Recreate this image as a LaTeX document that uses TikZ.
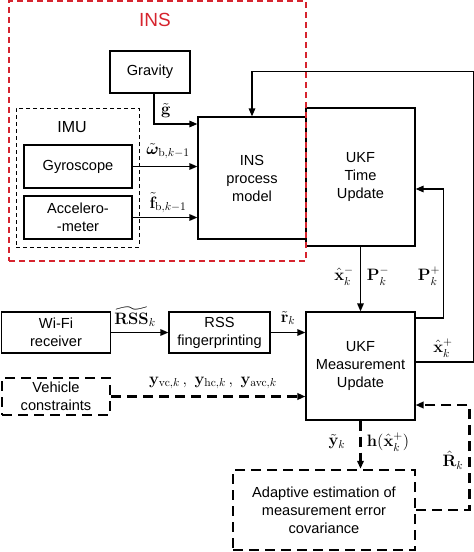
\RequirePackage{fix-cm}
\documentclass[tikz,border=0pt]{standalone}
\usepackage{amsmath, amssymb, bm}
\usepackage[no-math]{fontspec}
\setmainfont{Liberation Sans}
\usetikzlibrary{arrows.meta,positioning,calc}
\definecolor{insred}{RGB}{214,36,46}

\begin{document}
\begin{tikzpicture}[x=1pt, y=-1pt, every node/.style={align=center, font=\fontsize{14.6}{18}\selectfont},
  block/.style={draw, line width=1.2pt, inner sep=0pt},
  dblock/.style={draw, line width=2.5pt, dash pattern=on 10pt off 6pt, inner sep=0pt},
  arr/.style={line width=1.4pt, -{Triangle[length=8pt,width=6.5pt]}},
  darr/.style={arr, line width=2.5pt, dash pattern=on 10pt off 6pt},
  lbl/.style={inner sep=0pt, font=\fontsize{16.5}{18}\selectfont}]

\useasboundingbox (0,0) rectangle (474,552);

  % IMU (left)
  \node[draw, line width=1pt, dash pattern=on 4pt off 3pt, minimum width=123pt, minimum height=139pt] (imu) at (77.5,177.5) {};
  \node[font=\fontsize{16}{18}\selectfont] (imulabel) at (72,127) {IMU};
  \node[block, minimum width=108pt, minimum height=43pt] (gyro) at (78,166.5) {Gyroscope};
  \node[block, minimum width=108pt, minimum height=43pt] (accel) at (78,217.5) {Accelero-\\-meter};

  % Gravity (top)
  \node[block, minimum width=80pt, minimum height=42pt] (gravity) at (150,72) {Gravity};

  % INS process model and UKF time update
  \node[block, minimum width=108pt, minimum height=122pt] (insmodel) at (252,178) {INS\\process\\model};
  \node[block, minimum width=109pt, minimum height=138pt] (timeupd) at (360.5,177) {UKF\\Time\\Update};

  % INS frame (red)
  \node[draw=insred, line width=1.8pt, dash pattern=on 6pt off 4pt, minimum width=297pt, minimum height=260pt] (ins) at (157.5,131) {};
  \node[text=insred, font=\fontsize{19}{22}\selectfont] (inslabel) at (155,20) {INS};

  % Wi-Fi and fingerprinting (middle)
  \node[block, minimum width=109pt, minimum height=41pt] (wifi) at (56,332.5) {Wi-Fi\\receiver};
  \node[block, minimum width=101pt, minimum height=41pt] (rss) at (219.5,332.5) {RSS\\fingerprinting};
  \node[block, minimum width=109pt, minimum height=108pt] (measupd) at (360.5,366) {UKF\\Measurement\\Update};

  % Vehicle constraints and adaptive estimation (bottom)
  \node[dblock, minimum width=108pt, minimum height=37pt] (vehicle) at (56,396.5) {Vehicle\\constraints};
  \node[dblock, minimum width=182pt, minimum height=80pt] (adaptive) at (324,510) {Adaptive estimation of\\measurement error\\covariance};

  % connectors
  \draw[arr] ([xshift=4pt]gravity.south) |- ([yshift=54pt]insmodel.west);
  \draw[arr] (gyro.east) -- (gyro.east -| insmodel.west);
  \draw[arr] (accel.east) -- (accel.east -| insmodel.west);
  \draw[arr] (timeupd.south) -- (measupd.north);
  \draw[arr] ([yshift=48pt]measupd.east) -- ++(28,0) |- ([yshift=-12pt]timeupd.east);
  \draw[arr] ([yshift=4pt]measupd.east) -- ++(58,0) |- ($(insmodel.north)+(0,-45)$) -- (insmodel.north);
  \draw[arr] (wifi.east) -- (rss.west);
  \draw[arr] (rss.east) -- (rss.east -| measupd.west);
  \draw[darr] (vehicle.east) -- (vehicle.east -| measupd.west);
  \draw[darr] (measupd.south) -- (measupd.south |- adaptive.north);
  \draw[darr] (adaptive.east) -- ++(53,0) |- ([yshift=-39pt]measupd.east);

  % labels
  \node[lbl] (lg) at (166,111) {$\tilde{\mathbf{g}}$};
  \node[lbl] (lw) at (168,151) {$\tilde{\bm{\omega}}_{\mathrm{b},k-1}$};
  \node[lbl] (lf) at (168,203) {$\tilde{\mathbf{f}}_{\mathrm{b},k-1}$};
  \node[lbl] (lxm) at (344,276) {$\hat{\mathbf{x}}_k^-$};
  \node[lbl] (lpm) at (378,276) {$\mathbf{P}_k^-$};
  \node[lbl] (lpp) at (429,276) {$\mathbf{P}_k^+$};
  \node[lbl] (lrss) at (135,317) {$\widetilde{\mathbf{RSS}}_k$};
  \node[lbl] (lr) at (288,318) {$\tilde{\mathbf{r}}_k$};
  \node[lbl] (lxp) at (443,348) {$\hat{\mathbf{x}}_k^+$};
  \node[lbl] (ly) at (213,383) {$\mathbf{y}_{\mathrm{vc},k}\,,\ \mathbf{y}_{\mathrm{hc},k}\,,\ \mathbf{y}_{\mathrm{avc},k}$};
  \node[lbl] (lyt) at (337,442) {$\tilde{\mathbf{y}}_k$};
  \node[lbl] (lh) at (388,442) {$\mathbf{h}(\hat{\mathbf{x}}_k^+)$};
  \node[lbl] (lR) at (453,460) {$\hat{\mathbf{R}}_k$};

\end{tikzpicture}
\end{document}
